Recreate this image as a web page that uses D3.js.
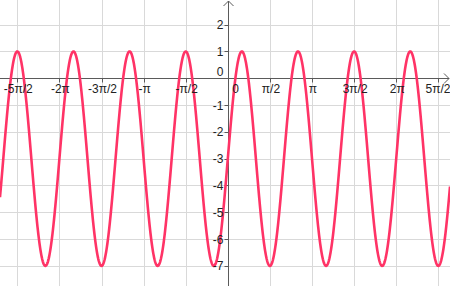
<!DOCTYPE html>
<html><head><meta charset="utf-8">
<script src="https://cdn.jsdelivr.net/npm/d3@7"></script>
<style>html,body{margin:0;padding:0;background:#fff;overflow:hidden}</style>
</head><body>
<svg id="c" width="450" height="286"></svg>
<script>
// View window (data units)
const xDomain = [-8.5, 8.29];
const yDomain = [2.92, -7.75];
// x ticks: multiples of pi/2
const xTickMultiples = [-5, -4, -3, -2, -1, 0, 1, 2, 3, 4, 5];
const xTickLabels = ["-5π/2", "-2π", "-3π/2", "-π", "-π/2", "0", "π/2", "π", "3π/2", "2π", "5π/2"];
// y ticks
const yTicks = [2, 1, 0, -1, -2, -3, -4, -5, -6, -7];
const yTickLabels = ["2", "1", "0", "-1", "-2", "-3", "-4", "-5", "-6", "-7"];
// curve parameters: y = A*sin(k*x) + c
const amplitude = [4];
const frequency = [3];
const offset = [-3];

const W = 450, H = 286;
const svg = d3.select("#c");
const x = d3.scaleLinear().domain(xDomain).range([0, W]);
const y = d3.scaleLinear().domain(yDomain).range([0, H]);
const font = "'Liberation Sans', Arial, sans-serif";

// grid
const xt = xTickMultiples.map(m => m * Math.PI / 2);
svg.append("g").selectAll("line").data(xt.filter(v => v !== 0)).join("line")
  .attr("x1", d => Math.round(x(d)) + 0.5).attr("x2", d => Math.round(x(d)) + 0.5)
  .attr("y1", 0).attr("y2", H).attr("stroke", "#d9d9d9").attr("stroke-width", 1);
svg.append("g").selectAll("line").data(yTicks.filter(v => v !== 0)).join("line")
  .attr("y1", d => Math.round(y(d)) + 0.5).attr("y2", d => Math.round(y(d)) + 0.5)
  .attr("x1", 0).attr("x2", W).attr("stroke", "#d9d9d9").attr("stroke-width", 1);

// axes
const x0 = Math.round(x(0)) + 0.5, y0 = Math.round(y(0)) + 0.5;
const axisCol = "#5a5a5a";
svg.append("line").attr("x1", 0).attr("x2", W - 1).attr("y1", y0).attr("y2", y0)
  .attr("stroke", axisCol).attr("stroke-width", 1);
svg.append("line").attr("x1", x0).attr("x2", x0).attr("y1", 1).attr("y2", H)
  .attr("stroke", axisCol).attr("stroke-width", 1);
// arrows
svg.append("path").attr("d", `M${W - 6},${y0 - 5}L${W - 1},${y0}L${W - 6},${y0 + 5}`)
  .attr("fill", "none").attr("stroke", axisCol).attr("stroke-width", 1);
svg.append("path").attr("d", `M${x0 - 5},${6}L${x0},${1}L${x0 + 5},${6}`)
  .attr("fill", "none").attr("stroke", axisCol).attr("stroke-width", 1);
// tick marks
svg.append("g").selectAll("line").data(xt.filter(v => v !== 0)).join("line")
  .attr("x1", d => Math.round(x(d)) + 0.5).attr("x2", d => Math.round(x(d)) + 0.5)
  .attr("y1", y0).attr("y2", y0 + 4).attr("stroke", axisCol);
svg.append("g").selectAll("line").data(yTicks.filter(v => v !== 0)).join("line")
  .attr("y1", d => Math.round(y(d)) + 0.5).attr("y2", d => Math.round(y(d)) + 0.5)
  .attr("x1", x0 - 4).attr("x2", x0).attr("stroke", axisCol);

// curve
const n = 1200;
const pts = d3.range(n + 1).map(i => {
  const xv = xDomain[0] + (xDomain[1] - xDomain[0]) * i / n;
  return [xv, amplitude[0] * Math.sin(frequency[0] * xv) + offset[0]];
});
svg.append("path").datum(pts)
  .attr("d", d3.line().x(d => x(d[0])).y(d => y(d[1])))
  .attr("fill", "none").attr("stroke", "#ff3366").attr("stroke-width", 2.6)
  .attr("stroke-linejoin", "round");

// labels
svg.append("g").selectAll("text").data(xt.map((v, i) => ({v, t: xTickLabels[i]}))).join("text")
  .attr("x", d => d.v === 0 ? x0 + 7 : Math.min(x(d.v) + 1, W - 12))
  .attr("y", y0 + 14)
  .attr("text-anchor", "middle")
  .attr("font-family", font).attr("font-size", 12).attr("fill", "#222")
  .text(d => d.t);
svg.append("g").selectAll("text").data(yTicks.map((v, i) => ({v, t: yTickLabels[i]}))).join("text")
  .attr("x", x0 - 5)
  .attr("y", d => d.v === 0 ? y0 - 3 : y(d.v) + 4.5)
  .attr("text-anchor", "end")
  .attr("font-family", font).attr("font-size", 12).attr("fill", "#222")
  .text(d => d.t);
</script>
</body></html>
